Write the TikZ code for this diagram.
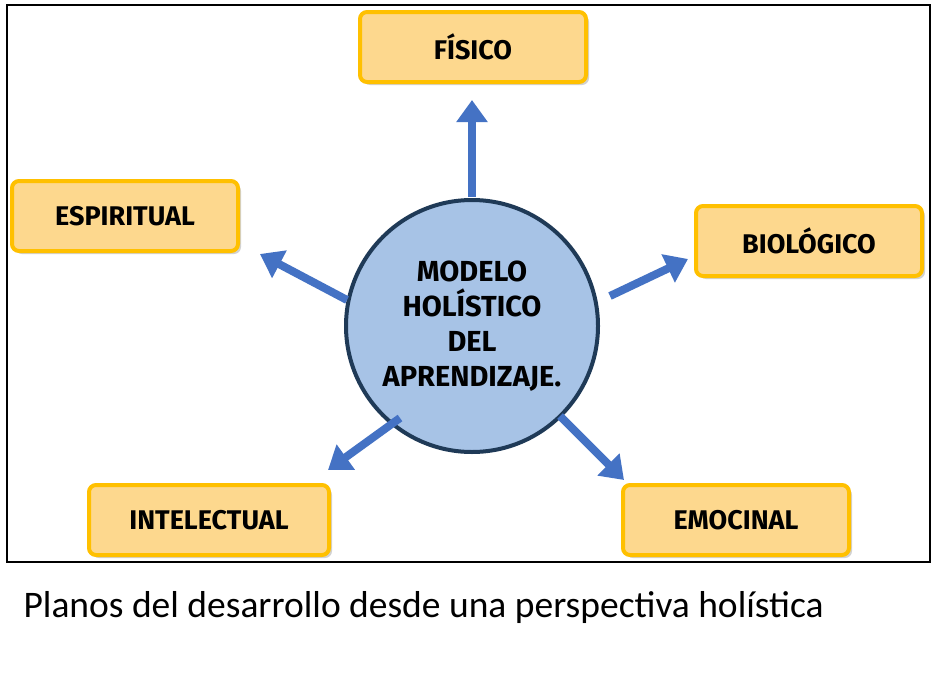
\documentclass[tikz,border=0pt]{standalone}
\usepackage{fontspec}
\setmainfont{Carlito}
\newfontfamily\boxfont{Fira Sans}
\usetikzlibrary{arrows.meta,shadows}
\definecolor{boxfill}{HTML}{FDD88E}
\definecolor{boxline}{HTML}{FFC000}
\definecolor{circfill}{HTML}{A7C3E6}
\definecolor{circline}{HTML}{1F3A57}
\definecolor{arr}{HTML}{4472C4}
\tikzset{
 plane/.style={draw=boxline,line width=4pt,fill=boxfill,rounded corners=7pt,minimum width=226pt,minimum height=70pt,font=\boxfont\bfseries\fontsize{27}{30}\selectfont,drop shadow={opacity=0.35,shadow xshift=3pt,shadow yshift=-3pt}},
 link/.style={draw=arr,line width=8pt,-{Triangle[length=22pt,width=30pt]}}
}
\begin{document}
\begin{tikzpicture}[x=1pt,y=-1pt]
\useasboundingbox (0,0) rectangle (945,680);
\fill[white] (0,0) rectangle (945,680);
\draw[line width=1.5pt] (7,5) rectangle (930,562);
\node[circle,draw=circline,line width=4pt,fill=circfill,minimum size=252pt,align=center,font=\boxfont\bfseries\fontsize{29}{35}\selectfont] (c) at (472,326) {MODELO\\HOLÍSTICO\\DEL\\APRENDIZAJE.};
\node[plane] (f) at (473,47) {FÍSICO};
\node[plane] (s) at (125,216) {ESPIRITUAL};
\node[plane] (b) at (809,241) {BIOLÓGICO};
\node[plane,minimum width=240pt] (i) at (209,520) {INTELECTUAL};
\node[plane] (e) at (736,520) {EMOCINAL};
\coordinate (af) at (472,100);
\coordinate (as) at (260,254);
\coordinate (ab) at (688,259);
\coordinate (ai) at (328,470);
\coordinate (ae) at (624,480);
\coordinate (sf) at (472,197);
\coordinate (ss) at (347,300);
\coordinate (sb) at (610,296);
\coordinate (si) at (400,418);
\coordinate (se) at (560,416);
\draw[link] (sf) -- (af);
\draw[link] (ss) -- (as);
\draw[link] (sb) -- (ab);
\draw[link] (si) -- (ai);
\draw[link] (se) -- (ae);
\node[anchor=west,font=\fontsize{37.5}{40}\selectfont] (cap) at (20,607) {Planos del desarrollo desde una perspectiva holística};
\end{tikzpicture}
\end{document}
